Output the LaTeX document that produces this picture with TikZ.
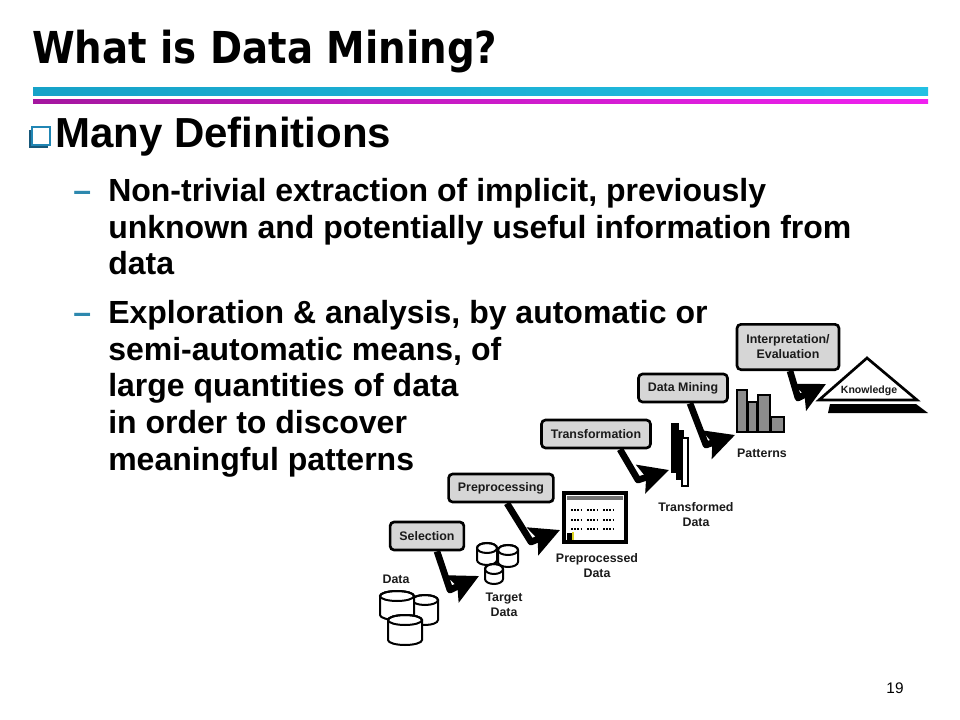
\documentclass[tikz,border=0pt]{standalone}
\usepackage{fontspec}
\setmainfont{Liberation Sans}
\newfontfamily\titlefont{DejaVu Sans Bold}[FakeStretch=0.88]
\usetikzlibrary{arrows.meta,calc}

\definecolor{barcyanL}{HTML}{16A2C8}
\definecolor{barcyanR}{HTML}{23C0E3}
\definecolor{barmagL}{HTML}{A4169F}
\definecolor{barmagR}{HTML}{F020F0}
\definecolor{dashteal}{HTML}{2D88AE}
\definecolor{bulletblue}{HTML}{2186B4}
\definecolor{bulletshadow}{HTML}{17587A}
\definecolor{boxgray}{HTML}{D6D6D6}
\definecolor{figtext}{HTML}{1A1A1A}

\newcommand\figfont{\bfseries\fontsize{9.3}{11.2}\selectfont}
\newcommand\itemfont{\bfseries\fontsize{24}{27.4}\selectfont}

\tikzset{
  stagebox/.style={draw, line width=2pt, rounded corners=3pt, fill=boxgray, text=figtext, font=\figfont, inner xsep=7pt, inner ysep=2pt, minimum height=21pt, align=center},
  figlabel/.style={font=\figfont, text=figtext, align=center, inner sep=0pt},
  slidetext/.style={anchor=base west, inner sep=0pt, align=left},
  flow/.style={line width=5pt, line join=round, -{Stealth[length=22pt,width=22pt,inset=4pt]}},
}

\begin{document}
\begin{tikzpicture}[x=0.75pt,y=-0.75pt]
\useasboundingbox (0,0) rectangle (960,720);

% Title and the two coloured rules
\node[slidetext, font=\titlefont\fontsize{33}{36}\selectfont] (title) at (32,64) {What is Data Mining?};
\shade[left color=barcyanL, right color=barcyanR] (33,88) rectangle (928,96);
\shade[left color=barmagL, right color=barmagR] (33,100) rectangle (928,104);

% Heading with its square bullet
\fill[bulletshadow] (29,130) rectangle (48,148);
\filldraw[fill=white, draw=bulletblue, line width=1.5pt] (32,127) rectangle (50,145);
\node[slidetext, font=\bfseries\fontsize{31.5}{36}\selectfont] (heading) at (55,148) {Many Definitions};

% The two definitions (a node's base is its last line)
\foreach \y in {202,324}
	\node[slidetext, text=dashteal, font=\itemfont] at (73,\y) {–};
\node[slidetext, font=\itemfont] (def1) at (108,275) {Non-trivial extraction of implicit, previously\\unknown and potentially useful information from\\data};
\node[slidetext, font=\itemfont] (def2) at (108,470) {Exploration \& analysis, by automatic or\\semi-automatic means, of\\large quantities of data\\in order to discover\\meaningful patterns};

% Steps of the process
\node[stagebox] (sel) at (427,536) {Selection};
\node[stagebox] (pre) at (501,488) {Preprocessing};
\node[stagebox] (trans) at (596,434) {Transformation};
\node[stagebox] (mine) at (683,388) {Data Mining};
\node[stagebox, minimum height=34pt] (interp) at (788,347) {Interpretation/\\Evaluation};

% Data stores as cylinders (back to front)
\foreach \cx/\ct/\cb/\r in {425/600/620/13, 397/596/615/17, 405/620/640/17, 487/548/560/10, 508/550/562/10, 494/569/579/9}{
	\filldraw[fill=white, line width=1.5pt] ({\cx-\r},\ct) -- ({\cx-\r},\cb) arc[start angle=180, end angle=0, x radius=\r, y radius=5] -- ({\cx+\r},\ct) arc[start angle=0, end angle=-180, x radius=\r, y radius=5] -- cycle;
	\draw[line width=1.5pt] (\cx,\ct) ellipse[x radius=\r, y radius=5];
}

% Preprocessed data on a screen
\draw[line width=2.5pt, fill=white] (564,493) rectangle (626,542);
\fill[black!55] (567,496) rectangle (623,500);
\foreach \c in {576,592,608}
	\foreach \r in {510,520,529}
		\draw[line width=1.2pt, dash pattern=on 1.2pt off 1.2pt] ({\c-5},\r) -- ({\c+5},\r);
\fill (567,533) rectangle (572,540);
\draw[yellow!85!black, line width=1pt] (573,532) -- (573,540);

% Transformed data as stacked sheets
\foreach \i/\f in {0/black,1/black,2/white}
	\filldraw[fill=\f, line width=2pt] ({672+5*\i},{424+7*\i}) rectangle +(6,48);

% Patterns as a bar chart
\foreach \xa/\xb/\yt in {737/747/390, 748/757/402, 758/770/395, 771/784/417}
	\filldraw[fill=black!45, line width=1.5pt] (\xa,\yt) rectangle (\xb,432);

% Knowledge triangle on its base
\fill (830,404) -- (916,404) -- (928,413) -- (828,413) -- cycle;
\filldraw[fill=white, line width=2pt] (819,400) -- (867,358) -- (917,400) -- cycle;
\node[figlabel, font=\bfseries\fontsize{7.9}{9.5}\selectfont] (know) at (869,391) {Knowledge};

% Labels under the items
\node[figlabel] (data) at (396,579) {Data};
\node[figlabel] (target) at (504,605) {Target\\Data};
\node[figlabel] (prepdata) at (597,566) {Preprocessed\\Data};
\node[figlabel] (transdata) at (696,515) {Transformed\\Data};
\node[figlabel] (patterns) at (762,453) {Patterns};

% Arrows from each step to what it gives
\coordinate (sel-bend) at (450,590);    \coordinate (sel-tip) at (479,576);
\coordinate (pre-bend) at (531,542);    \coordinate (pre-tip) at (560,530);
\coordinate (trans-bend) at (638,480);  \coordinate (trans-tip) at (669,470);
\coordinate (mine-bend) at (706,445);   \coordinate (mine-tip) at (735,435);
\coordinate (interp-bend) at (798,398); \coordinate (interp-tip) at (826,384);
\foreach \s/\dx in {sel/10, pre/6, trans/24, mine/7, interp/2}
	\draw[flow] ($(\s.south)+(\dx,0)$) -- (\s-bend) -- (\s-tip);

% Page number
\node[anchor=base, inner sep=0pt, font=\fontsize{11.5}{13}\selectfont] (pagenum) at (895,693) {19};

\end{tikzpicture}
\end{document}
